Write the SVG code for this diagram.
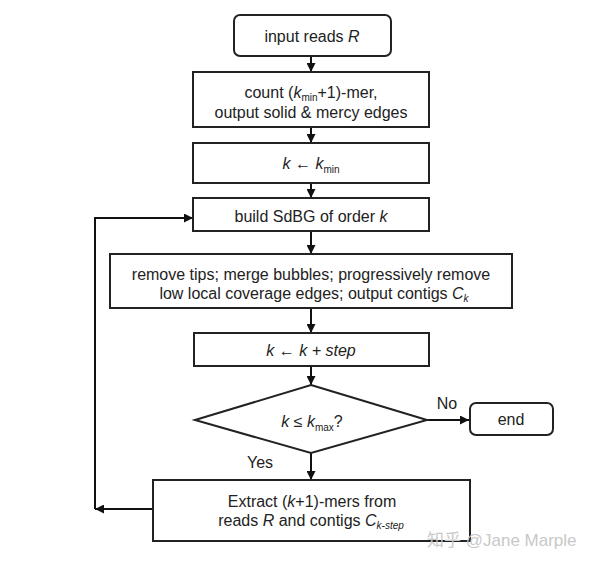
<svg xmlns="http://www.w3.org/2000/svg" width="600" height="564" viewBox="0 0 600 564">
<defs>
<marker id="ah" viewBox="0 0 10 10" refX="10" refY="5" markerWidth="9" markerHeight="9" markerUnits="userSpaceOnUse" orient="auto">
<path d="M0,0 L10,5 L0,10 Z" fill="#111"/>
</marker>
</defs>
<style>
.box{fill:#fff;stroke:#222;stroke-width:2}
.t{font-family:"Liberation Sans",Arial,sans-serif;font-size:16px;fill:#222;text-anchor:middle}
.i{font-style:italic}
.s{font-size:10px}
.c{fill:none;stroke:#111;stroke-width:2}
</style>
<rect width="600" height="564" fill="#fff"/>
<g id="connectors">
<line class="c" x1="311" y1="56" x2="311" y2="72" marker-end="url(#ah)"/>
<line class="c" x1="311" y1="127" x2="311" y2="143" marker-end="url(#ah)"/>
<line class="c" x1="311" y1="183" x2="311" y2="198" marker-end="url(#ah)"/>
<line class="c" x1="311" y1="231" x2="311" y2="254" marker-end="url(#ah)"/>
<line class="c" x1="311" y1="308" x2="311" y2="333" marker-end="url(#ah)"/>
<line class="c" x1="311" y1="366" x2="311" y2="385" marker-end="url(#ah)"/>
<line class="c" x1="427" y1="420" x2="469" y2="420" marker-end="url(#ah)"/>
<line class="c" x1="311" y1="453" x2="311" y2="480" marker-end="url(#ah)"/>
<line class="c" x1="153" y1="509" x2="95" y2="509" marker-end="url(#ah)"/>
<polyline class="c" points="95,509 95,218 193,218" marker-end="url(#ah)"/>
</g>
<g id="input">
<rect class="box" x="234" y="15" width="157" height="41" rx="6"/>
<text class="t" x="312" y="42">input reads <tspan class="i">R</tspan></text>
</g>
<g id="count">
<rect class="box" x="193" y="72" width="236" height="55"/>
<text class="t" x="311" y="98">count (<tspan class="i">k</tspan><tspan class="s" dy="3">min</tspan><tspan dy="-3">+1)-mer,</tspan></text>
<text class="t" x="311" y="118">output solid &amp; mercy edges</text>
</g>
<g id="kinit">
<rect class="box" x="193" y="143" width="236" height="40"/>
<text class="t" x="311" y="169"><tspan class="i">k</tspan> ← <tspan class="i">k</tspan><tspan class="s" dy="4">min</tspan></text>
</g>
<g id="build">
<rect class="box" x="193" y="198" width="236" height="33"/>
<text class="t" x="311" y="222">build SdBG of order <tspan class="i">k</tspan></text>
</g>
<g id="remove">
<rect class="box" x="110" y="254" width="402" height="54"/>
<text class="t" x="311" y="280">remove tips; merge bubbles; progressively remove</text>
<text class="t" x="314" y="299">low local coverage edges; output contigs <tspan class="i">C</tspan><tspan class="s i" dy="3">k</tspan></text>
</g>
<g id="kstep">
<rect class="box" x="194" y="333" width="235" height="33"/>
<text class="t i" x="311" y="356">k ← k + step</text>
</g>
<g id="decision">
<polygon class="box" points="311,385 427,420 311,453 195,420"/>
<text class="t" x="312" y="427"><tspan class="i">k</tspan> ≤ <tspan class="i">k</tspan><tspan class="s" dy="4">max</tspan><tspan dy="-4">?</tspan></text>
<text class="t" x="447" y="409">No</text>
<text class="t" x="260" y="468">Yes</text>
</g>
<g id="end">
<rect class="box" x="470" y="403" width="83" height="32" rx="6"/>
<text class="t" x="511" y="425">end</text>
</g>
<g id="extract">
<rect class="box" x="153" y="480" width="317" height="61"/>
<text class="t" x="312" y="507">Extract (<tspan class="i">k</tspan>+1)-mers from</text>
<text class="t" x="311" y="526">reads <tspan class="i">R</tspan> and contigs <tspan class="i">C</tspan><tspan class="s i" dy="3">k-step</tspan></text>
</g>
<text x="427" y="546" style="font-family:'Liberation Sans','Noto Sans CJK SC',sans-serif;font-size:17px;fill:#c8c8c8">知乎 @Jane Marple</text>
</svg>
